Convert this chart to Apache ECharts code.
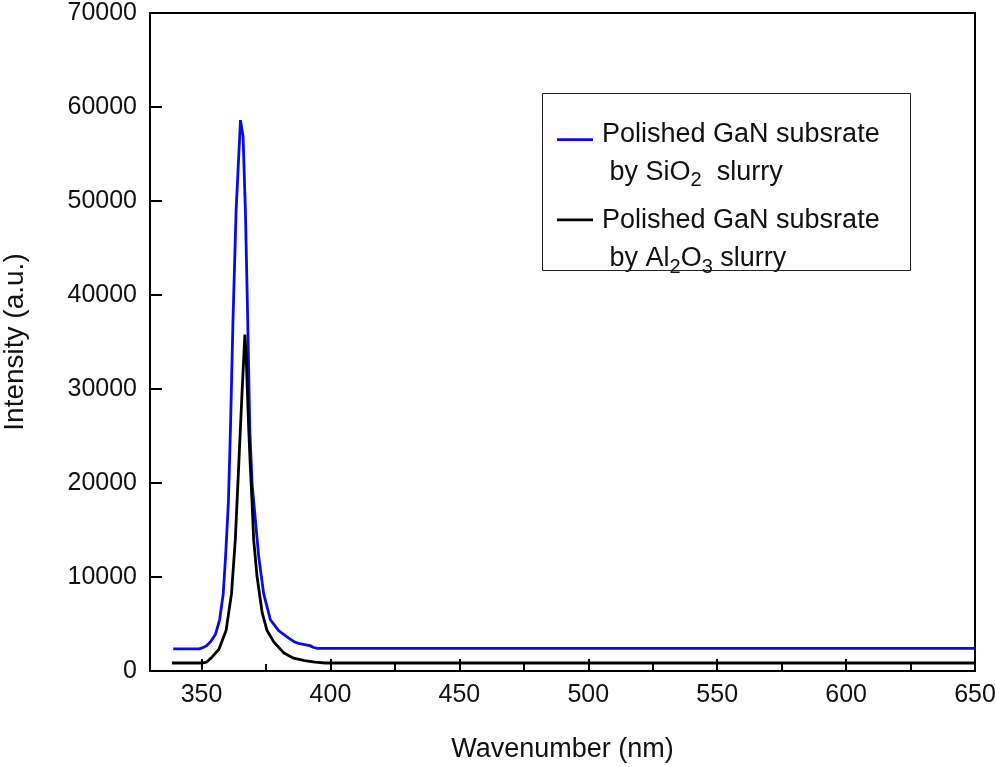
<!DOCTYPE html>
<html>
<head>
<meta charset="utf-8">
<script src="https://cdn.jsdelivr.net/npm/echarts@6/dist/echarts.min.js"></script>
<style>
  html, body { margin: 0; padding: 0; background: #fff; }
  #main { width: 996px; height: 767px; }
</style>
</head>
<body>
<div id="main"></div>
<script>
// PL spectra
var wlSiO2 = [339, 349, 350.3, 352, 353.5, 355.4, 357, 358.4, 359.3, 360.4, 361.2, 362.2, 363.4, 365.1,
  366.1, 367, 367.9, 368.7, 369.6, 370.9, 372.2, 374.1, 376.7, 379.9, 383.8,
  386, 388, 390, 392, 393.5, 395, 650];
var intSiO2 = [2350, 2350, 2450, 2700, 3100, 3900, 5450, 8200, 12100, 17900, 25700, 37400, 49000, 58600,
  56850, 49000, 37400, 25700, 19900, 16000, 12100, 8200, 5450, 4300, 3500,
  3100, 2900, 2800, 2700, 2500, 2400, 2400];

var wlAl2O3 = [338.5, 350, 352, 354.1, 356.7, 359.5, 361.6, 363.1, 364.4, 365.7, 366.8,
  367.3, 368.3, 368.9, 369.6, 370.2, 371.5, 373.5, 375.4, 378, 381.8, 385.7, 390, 394, 398, 650];
var intAl2O3 = [850, 850, 950, 1500, 2300, 4300, 8200, 14000, 21800, 29600, 35800,
  33500, 25700, 21800, 17900, 14000, 10100, 6200, 4300, 3100, 1950, 1360, 1100, 950, 850, 850];

var xMajor = [350, 400, 450, 500, 550, 600, 650];
var xMinor = [375, 425, 475, 525, 575, 625];

var font = 'Liberation Sans, Arial, sans-serif';

function pairs(xs, ys) {
  return xs.map(function (x, i) { return [x, ys[i]]; });
}

var legendText = {
  'SiO2': '{n|Polished GaN subsrate}\n{n| by SiO}{s|2}{n|  slurry}',
  'Al2O3': '{n|Polished GaN subsrate}\n{n| by Al}{s|2}{n|O}{s|3}{n| slurry}'
};

var chart = echarts.init(document.getElementById('main'), null, { renderer: 'canvas' });

var option = {
  backgroundColor: '#fff',
  animation: false,
  grid: {
    left: 150, top: 13, right: 21, bottom: 96,
    containLabel: false,
    outerBoundsMode: 'none',
    show: true,
    borderColor: '#000',
    borderWidth: 2,
    backgroundColor: 'transparent'
  },
  xAxis: [{
    type: 'value',
    min: 330,
    max: 650,
    name: 'Wavenumber (nm)',
    nameLocation: 'middle',
    nameGap: 65,
    nameTextStyle: { color: '#111', fontSize: 27, fontFamily: font },
    axisLine: { show: true, lineStyle: { color: '#000', width: 2 } },
    axisTick: { show: true, inside: true, length: 12, customValues: xMajor, lineStyle: { color: '#000', width: 2 } },
    axisLabel: { color: '#111', fontSize: 25, fontFamily: font, margin: 12, customValues: xMajor },
    splitLine: { show: false }
  }, {
    type: 'value',
    min: 330,
    max: 650,
    position: 'bottom',
    axisLine: { show: false },
    axisTick: { show: true, inside: true, length: 7, customValues: xMinor, lineStyle: { color: '#000', width: 2 } },
    axisLabel: { show: false },
    splitLine: { show: false }
  }],
  yAxis: {
    type: 'value',
    min: 0,
    max: 70000,
    interval: 10000,
    name: 'Intensity (a.u.)',
    nameLocation: 'middle',
    nameGap: 121,
    nameTextStyle: { color: '#111', fontSize: 28, fontFamily: font },
    axisLine: { show: true, lineStyle: { color: '#000', width: 2 } },
    axisTick: { show: true, inside: true, length: 12, lineStyle: { color: '#000', width: 2 } },
    axisLabel: {
      color: '#111', fontSize: 25, fontFamily: font, margin: 13,
      formatter: function (v) { return String(v); }
    },
    splitLine: { show: false }
  },
  legend: {
    orient: 'vertical',
    left: 557,
    top: 121,
    padding: 0,
    itemGap: 17,
    itemWidth: 40,
    itemHeight: 48,
    itemStyle: { borderWidth: 0 },
    data: [
      { name: 'SiO2', icon: 'path://M0,0H0.01V0.01H0Z M0,8.8H36V11.6H0Z M39.99,47.99H40V48H39.99Z' },
      { name: 'Al2O3', icon: 'path://M0,0H0.01V0.01H0Z M0,2.5H36V5.3H0Z M39.99,47.99H40V48H39.99Z' }
    ],
    formatter: function (name) { return legendText[name]; },
    textStyle: {
      color: '#111',
      fontFamily: font,
      rich: {
        n: { fontSize: 27, lineHeight: 38, fontFamily: font, color: '#111' },
        s: { fontSize: 20, lineHeight: 38, fontFamily: font, color: '#111', padding: [16, 0, 0, 0] }
      }
    }
  },
  graphic: [{
    type: 'rect',
    shape: { x: 542.5, y: 93.5, width: 368, height: 177 },
    style: { fill: 'transparent', stroke: '#222', lineWidth: 1 },
    z: 10
  }],
  series: [{
    name: 'SiO2',
    type: 'line',
    xAxisIndex: 0,
    showSymbol: false,
    symbol: 'none',
    lineStyle: { color: '#0a0ae6', width: 2.8 },
    itemStyle: { color: '#0a0ae6' },
    data: pairs(wlSiO2, intSiO2),
    z: 3
  }, {
    name: 'Al2O3',
    type: 'line',
    xAxisIndex: 0,
    showSymbol: false,
    symbol: 'none',
    lineStyle: { color: '#000', width: 2.8 },
    itemStyle: { color: '#000' },
    data: pairs(wlAl2O3, intAl2O3),
    z: 4
  }]
};

chart.setOption(option);
</script>
</body>
</html>
